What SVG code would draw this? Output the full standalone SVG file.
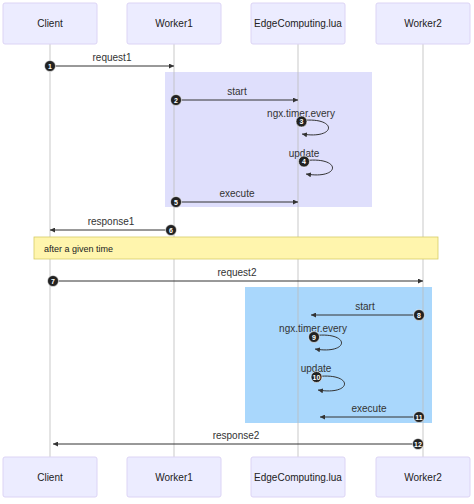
<svg xmlns="http://www.w3.org/2000/svg" width="474" height="504" viewBox="0 0 474 504">
<defs>
<style>
.actor rect{fill:#ECECFF;stroke:#DCD4F5;stroke-width:1}
.actor text{font-family:"Liberation Sans",Arial,sans-serif;font-size:10px;fill:#222;text-anchor:middle;dominant-baseline:central}
.life{stroke:#bbb;stroke-width:0.8}
.msg{stroke:#333;stroke-width:1;fill:none}
.lbl{font-family:"Liberation Sans",Arial,sans-serif;font-size:10px;fill:#333;text-anchor:middle}
.seq circle{fill:#222;stroke:#fff;stroke-width:0.6}
.seq text{font-family:"Liberation Sans",Arial,sans-serif;font-size:7px;font-weight:bold;fill:#fff;text-anchor:middle;dominant-baseline:central}
</style>
<marker id="arr" viewBox="0 0 10 10" refX="10" refY="5" markerWidth="5" markerHeight="5" orient="auto-start-reverse">
<path d="M0,0 L10,5 L0,10 z" fill="#333"/>
</marker>
</defs>
<rect x="0" y="0" width="474" height="504" fill="#fff"/>
<rect x="165" y="72" width="207" height="135" fill="#DFDFFC"/>
<rect x="245" y="287" width="187" height="136" fill="#A9D7FC"/>
<g id="lifelines">
<line class="life" x1="50" y1="44" x2="50" y2="457"/>
<line class="life" x1="174" y1="44" x2="174" y2="457"/>
<line class="life" x1="298" y1="44" x2="298" y2="457"/>
<line class="life" x1="423" y1="44" x2="423" y2="457"/>
</g>
<g id="actor-client-top" class="actor"><rect x="3" y="3" width="94" height="41" rx="2"/><text x="50" y="23.5">Client</text></g>
<g id="actor-worker1-top" class="actor"><rect x="127" y="3" width="94" height="41" rx="2"/><text x="174" y="23.5">Worker1</text></g>
<g id="actor-edge-top" class="actor"><rect x="251" y="3" width="94" height="41" rx="2"/><text x="298" y="23.5">EdgeComputing.lua</text></g>
<g id="actor-worker2-top" class="actor"><rect x="376" y="3" width="94" height="41" rx="2"/><text x="423" y="23.5">Worker2</text></g>
<g id="actor-client-bottom" class="actor"><rect x="3" y="457" width="94" height="40" rx="2"/><text x="50" y="477">Client</text></g>
<g id="actor-worker1-bottom" class="actor"><rect x="127" y="457" width="94" height="40" rx="2"/><text x="174" y="477">Worker1</text></g>
<g id="actor-edge-bottom" class="actor"><rect x="251" y="457" width="94" height="40" rx="2"/><text x="298" y="477">EdgeComputing.lua</text></g>
<g id="actor-worker2-bottom" class="actor"><rect x="376" y="457" width="94" height="40" rx="2"/><text x="423" y="477">Worker2</text></g>
<g id="note">
<rect x="34" y="237" width="404" height="22" fill="#FFF5AD" stroke="#D6CC66" stroke-width="0.8"/>
<text x="44" y="251.5" font-family="'Liberation Sans',Arial,sans-serif" font-size="9px" fill="#222">after a given time</text>
</g>
<g id="connectors">
<line class="msg" x1="50" y1="66" x2="174" y2="66" marker-end="url(#arr)"/>
<text class="lbl" x="112" y="61">request1</text>
<line class="msg" x1="176" y1="100" x2="298" y2="100" marker-end="url(#arr)"/>
<text class="lbl" x="237" y="95">start</text>
<path class="msg" d="M298,121 C338,115 338,140 302,134" marker-end="url(#arr)"/>
<text class="lbl" x="301" y="117">ngx.timer.every</text>
<path class="msg" d="M302,161 C342,155 342,180 306,174" marker-end="url(#arr)"/>
<text class="lbl" x="304" y="157">update</text>
<line class="msg" x1="176" y1="202" x2="298" y2="202" marker-end="url(#arr)"/>
<text class="lbl" x="237" y="197">execute</text>
<line class="msg" x1="171" y1="230" x2="50" y2="230" marker-end="url(#arr)"/>
<text class="lbl" x="111" y="225">response1</text>
<line class="msg" x1="53" y1="281" x2="423" y2="281" marker-end="url(#arr)"/>
<text class="lbl" x="237" y="276">request2</text>
<line class="msg" x1="419" y1="315" x2="311" y2="315" marker-end="url(#arr)"/>
<text class="lbl" x="365" y="310">start</text>
<path class="msg" d="M311,336 C351,330 351,355 315,349" marker-end="url(#arr)"/>
<text class="lbl" x="313" y="332">ngx.timer.every</text>
<path class="msg" d="M314,377 C354,371 354,396 318,390" marker-end="url(#arr)"/>
<text class="lbl" x="316" y="372">update</text>
<line class="msg" x1="419" y1="417" x2="320" y2="417" marker-end="url(#arr)"/>
<text class="lbl" x="369" y="412">execute</text>
<line class="msg" x1="418" y1="444" x2="53" y2="444" marker-end="url(#arr)"/>
<text class="lbl" x="236" y="439">response2</text>
</g>
<g id="seqnums" class="seq">
<circle cx="50" cy="66" r="5.5"/><text x="50" y="66">1</text>
<circle cx="176" cy="100" r="5.5"/><text x="176" y="100">2</text>
<circle cx="301.5" cy="121.5" r="5.5"/><text x="301.5" y="121.5">3</text>
<circle cx="304" cy="161.5" r="5.5"/><text x="304" y="161.5">4</text>
<circle cx="176" cy="202" r="5.5"/><text x="176" y="202">5</text>
<circle cx="171" cy="230" r="5.5"/><text x="171" y="230">6</text>
<circle cx="53" cy="281" r="5.5"/><text x="53" y="281">7</text>
<circle cx="419" cy="315" r="5.5"/><text x="419" y="315">8</text>
<circle cx="314" cy="337" r="5.5"/><text x="314" y="337">9</text>
<circle cx="316.5" cy="377" r="5.5"/><text x="316.5" y="377">10</text>
<circle cx="419" cy="417" r="5.5"/><text x="419" y="417">11</text>
<circle cx="418" cy="444" r="5.5"/><text x="418" y="444">12</text>
</g>
</svg>
